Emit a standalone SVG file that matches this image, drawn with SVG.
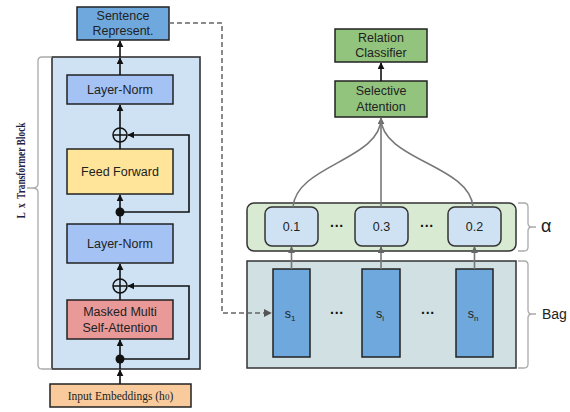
<svg xmlns="http://www.w3.org/2000/svg" width="570" height="412" viewBox="0 0 570 412">
<defs>
<marker id="ab" viewBox="0 0 10 10" refX="9" refY="5" markerWidth="7" markerHeight="7" markerUnits="userSpaceOnUse" orient="auto"><path d="M0,0 L10,5 L0,10 z" fill="#111"/></marker>
<marker id="ag" viewBox="0 0 10 10" refX="9" refY="5" markerWidth="7" markerHeight="7" markerUnits="userSpaceOnUse" orient="auto"><path d="M0,0 L10,5 L0,10 z" fill="#666"/></marker>
<marker id="ad" viewBox="0 0 10 10" refX="9" refY="5" markerWidth="8" markerHeight="8" markerUnits="userSpaceOnUse" orient="auto"><path d="M0,0 L10,5 L0,10 z" fill="#555"/></marker>
</defs>
<style>
.box{stroke:#222;stroke-width:1.5}
.t{font-family:"Liberation Sans",Arial,sans-serif;font-size:12.5px;fill:#222;text-anchor:middle}
.bl{stroke:#111;stroke-width:1.6;fill:none}
.gl{stroke:#777;stroke-width:1.6;fill:none}
.br{stroke:#aaa;stroke-width:1.3;fill:none}
.dots{font-family:"Liberation Sans",Arial,sans-serif;font-size:14px;font-weight:bold;fill:#111;text-anchor:middle}
</style>
<rect width="570" height="412" fill="#fff"/>

<g id="block">
<rect x="52" y="57" width="148" height="312" fill="#cfe2f3" stroke="#333" stroke-width="1.6"/>
</g>
<g id="bracket-left">
<path class="br" d="M52,57 H42 Q38,57 38,61 V184 Q38,188 32,188 H27 M32,188 Q38,188 38,192 V365 Q38,369 42,369 H52"/>
<text xml:space="preserve" x="20" y="170.5" transform="rotate(-90 20 170.5)" font-family="Liberation Serif,'Times New Roman',serif" font-weight="bold" font-size="13" fill="#1c2344" text-anchor="middle" dominant-baseline="central" textLength="96" lengthAdjust="spacingAndGlyphs">L  x  Transformer Block</text>
</g>

<g id="sentence">
<rect class="box" x="77" y="7" width="92" height="33" fill="#6fa8dc"/>
<text class="t" font-size="12" x="123" y="20">Sentence</text>
<text class="t" font-size="12" x="123" y="35">Represent.</text>
</g>
<g id="layernorm1">
<rect class="box" x="67" y="75" width="106" height="29" fill="#a4c2f4"/>
<text class="t" x="120" y="94">Layer-Norm</text>
</g>
<g id="add1">
<circle cx="120" cy="135" r="7" fill="none" stroke="#111" stroke-width="1.5"/>
<path d="M113,135 H127 M120,128 V142" stroke="#111" stroke-width="1.5"/>
</g>
<g id="feedforward">
<rect class="box" x="67" y="149" width="106" height="45" fill="#ffe599"/>
<text class="t" x="120" y="176">Feed Forward</text>
</g>
<g id="dot1"><circle cx="120" cy="212" r="4.5" fill="#111"/></g>
<g id="layernorm2">
<rect class="box" x="67" y="224" width="106" height="39" fill="#a4c2f4"/>
<text class="t" x="120" y="248">Layer-Norm</text>
</g>
<g id="add2">
<circle cx="120" cy="286" r="7" fill="none" stroke="#111" stroke-width="1.5"/>
<path d="M113,286 H127 M120,279 V293" stroke="#111" stroke-width="1.5"/>
</g>
<g id="attention">
<rect class="box" x="67" y="300" width="106" height="39" fill="#ea9999"/>
<text class="t" x="120" y="316">Masked Multi</text>
<text class="t" x="120" y="332">Self-Attention</text>
</g>
<g id="dot2"><circle cx="120" cy="359" r="4.5" fill="#111"/></g>
<g id="input">
<rect class="box" x="50" y="384" width="141" height="23" fill="#f9cb9c"/>
<text x="120.5" y="400" font-family="Liberation Serif,'Times New Roman',serif" font-size="11.5" fill="#222" text-anchor="middle">Input Embeddings (h<tspan font-size="9">0</tspan>)</text>
</g>

<g id="classifier">
<rect class="box" x="335" y="29" width="92" height="33" fill="#93c47d"/>
<text class="t" x="381" y="42">Relation</text>
<text class="t" x="381" y="57">Classifier</text>
</g>
<g id="selective">
<rect class="box" x="335" y="81" width="92" height="36" fill="#93c47d"/>
<text class="t" x="381" y="95">Selective</text>
<text class="t" x="381" y="111">Attention</text>
</g>

<g id="alpha">
<rect x="247" y="203" width="269" height="48" rx="7" fill="#d9ead3" stroke="#333" stroke-width="1.5"/>
<rect x="265" y="207" width="53" height="39" rx="7" fill="#cfe2f3" stroke="#333" stroke-width="1.5"/>
<text class="t" x="291.5" y="231">0.1</text>
<rect x="355" y="207" width="53" height="39" rx="7" fill="#cfe2f3" stroke="#333" stroke-width="1.5"/>
<text class="t" x="381.5" y="231">0.3</text>
<rect x="448" y="207" width="53" height="39" rx="7" fill="#cfe2f3" stroke="#333" stroke-width="1.5"/>
<text class="t" x="474.5" y="231">0.2</text>
<text class="dots" x="337" y="231">···</text>
<text class="dots" x="427" y="231">···</text>
<path class="br" d="M518,203 H524 Q528,203 528,207 V223 Q528,227 532,227 H536 M532,227 Q528,227 528,231 V247 Q528,251 524,251 H518"/>
<text x="541" y="232" font-family="Liberation Sans,Arial,sans-serif" font-size="18" fill="#222">α</text>
</g>

<g id="bag">
<rect x="247" y="261" width="269" height="107" fill="#d0e0e3" stroke="#333" stroke-width="1.5"/>
<rect class="box" x="273" y="269" width="37" height="88" fill="#6fa8dc"/>
<text class="t" font-size="12" x="290" y="318">s<tspan font-size="8" dy="3">1</tspan></text>
<rect class="box" x="362" y="269" width="38" height="88" fill="#6fa8dc"/>
<text class="t" font-size="12" x="380" y="318">s<tspan font-size="8" dy="3">i</tspan></text>
<rect class="box" x="456" y="269" width="37" height="88" fill="#6fa8dc"/>
<text class="t" font-size="12" x="473" y="318">s<tspan font-size="8" dy="3">n</tspan></text>
<text class="dots" x="337" y="318">···</text>
<text class="dots" x="428" y="318">···</text>
<path class="br" d="M518,261 H524 Q528,261 528,265 V310 Q528,314 532,314 H536 M532,314 Q528,314 528,318 V364 Q528,368 524,368 H518"/>
<text x="542" y="319" font-family="Liberation Sans,Arial,sans-serif" font-size="14" fill="#222">Bag</text>
</g>

<g id="connectors">
<path class="bl" d="M120,384 V370" marker-end="url(#ab)"/>
<path class="bl" d="M120,369 V340" marker-end="url(#ab)"/>
<path class="bl" d="M120,300 V293"/>
<path class="bl" d="M120,279 V264" marker-end="url(#ab)"/>
<path class="bl" d="M120,224 V195" marker-end="url(#ab)"/>
<path class="bl" d="M120,149 V142"/>
<path class="bl" d="M120,128 V105" marker-end="url(#ab)"/>
<path class="bl" d="M120,75 V58" marker-end="url(#ab)"/>
<path class="bl" d="M120,57 V41" marker-end="url(#ab)"/>
<path class="bl" d="M120,359 H189 V286 H128" marker-end="url(#ab)"/>
<path class="bl" d="M120,212 H189 V135 H128" marker-end="url(#ab)"/>
<path d="M169,23 H222 V313 H271" fill="none" stroke="#666" stroke-width="1.5" stroke-dasharray="5,3" marker-end="url(#ad)"/>
<path class="bl" d="M381,81 V63" marker-end="url(#ab)" stroke="#333"/>
<path class="gl" d="M291.5,269 V247" marker-end="url(#ag)"/>
<path class="gl" d="M381,269 V247" marker-end="url(#ag)"/>
<path class="gl" d="M474.5,269 V247" marker-end="url(#ag)"/>
<path class="gl" d="M381,207 V118" marker-end="url(#ag)"/>
<path class="gl" d="M293,207 C296,165 381,160 381,118"/>
<path class="gl" d="M473,207 C470,165 381,160 381,118"/>
</g>
</svg>
